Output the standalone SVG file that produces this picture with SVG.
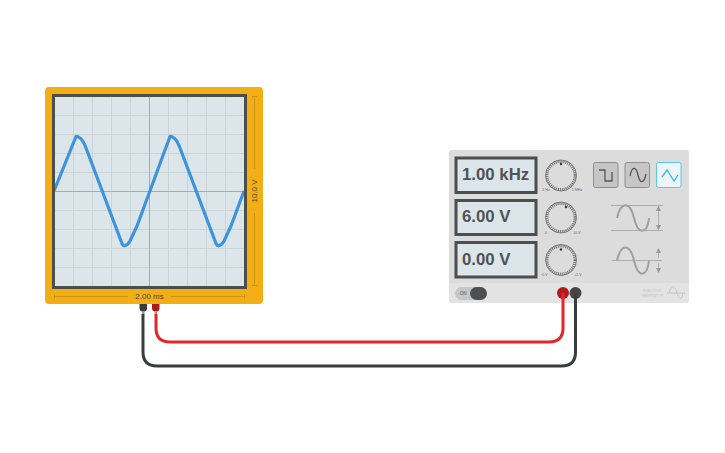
<svg xmlns="http://www.w3.org/2000/svg" width="725" height="453" viewBox="0 0 725 453">
<style>
text{font-family:"Liberation Sans",Arial,sans-serif}
.g{stroke:#cbd5d8;stroke-width:1;fill:none}
.tick{stroke:#c08f16;stroke-width:.8;fill:none}
.o{font-size:8px;fill:#4a4a40}
.lcd{fill:#dbe5ea;stroke:#4b4f4f;stroke-width:3}
.val{font-size:16.800px;font-weight:bold;fill:#4f5353}
.knobtick{fill:none;stroke:#777;stroke-width:2.800;stroke-dasharray:1.100 .9}
.knob{fill:#dcdcdc;stroke:#666;stroke-width:.8}
.sm{font-size:3.600px;fill:#666}
.btn{fill:#c6c6c6;stroke:#8f8f8f;stroke-width:1}
.ic{fill:none;stroke:#555;stroke-width:1.300}
.big{fill:none;stroke:#a0a0a0;stroke-width:2}
.thin{fill:none;stroke:#adadad;stroke-width:1}
</style>
<g id="oscilloscope">
<rect x="45" y="87" width="218" height="217" rx="4" fill="#f2ae14"/>
<rect x="54" y="96" width="191" height="191" fill="#dbe5ea"/>
<path class="g" d="M73.500 96V287M92.500 96V287M111.500 96V287M130.500 96V287M168.500 96V287M187.500 96V287M206.500 96V287M225.500 96V287M54 115.500H245M54 134.500H245M54 153.500H245M54 172.500H245M54 210.500H245M54 229.500H245M54 248.500H245M54 267.500H245"/>
<path d="M149.500 96V287M54 191.500H245" stroke="#a3adae" stroke-width="1" fill="none"/>
<path d="M54 191L76 136.500Q77 135.800 80 138Q83 140 86 148L122 243.500Q123.500 246.500 125 245.500Q128 244.800 130 241L137 226L170 136.500Q171 135.800 174 138Q177 140 180 148L216 243.500Q217.500 246.500 219 245.500Q222 244.800 224 241L231 226L244 191" fill="none" stroke="#3f93db" stroke-width="3.200" stroke-linejoin="round"/>
<rect x="53.500" y="95.500" width="192" height="192" fill="none" stroke="#4d4f4b" stroke-width="3"/>
<path class="tick" d="M254.500 96.500V169M254.500 213V285.500M252 96.500H257M252 285.500H257M54.500 296.500H128M171 296.500H244.500M54.500 294.500V298.500M244.500 294.500V298.500"/>
<text class="o" x="149.500" y="299" text-anchor="middle">2.00 ms</text>
<text class="o" text-anchor="middle" transform="translate(257 191) rotate(-90)">10.0 V</text>
<path d="M139.500 304H147V308Q147 311 144.500 311.500H142Q139.500 311 139.500 308Z" fill="#3a3c3e"/>
<path d="M152 304H159.500V308Q159.500 311 157 311.500H154.500Q152 311 152 308Z" fill="#a81c1c"/>
<rect x="142" y="311" width="2.500" height="3" fill="#999"/>
<rect x="154.500" y="311" width="2.500" height="3" fill="#999"/>
</g>
<g id="function-generator">
<rect x="449" y="150" width="240" height="153" rx="3" fill="#dcdcdc"/>
<path d="M449 283H689V300a3 3 0 0 1-3 3H452a3 3 0 0 1-3-3Z" fill="#e3e3e3"/>
<rect class="lcd" x="456" y="158" width="80" height="34.500"/>
<rect class="lcd" x="456" y="200.500" width="80" height="34"/>
<rect class="lcd" x="456" y="242.500" width="80" height="34.500"/>
<text class="val" x="462" y="180">1.00 kHz</text>
<text class="val" x="462" y="222">6.00 V</text>
<text class="val" x="462" y="265">0.00 V</text>
<circle class="knob" cx="561" cy="175.500" r="15.500"/><circle class="knobtick" cx="561" cy="175.500" r="14"/><circle cx="561" cy="164" r="1.200" fill="#333"/>
<circle class="knob" cx="561" cy="217.500" r="15.500"/><circle class="knobtick" cx="561" cy="217.500" r="14"/><circle cx="566" cy="207" r="1.200" fill="#333"/>
<circle class="knob" cx="561" cy="260" r="15.500"/><circle class="knobtick" cx="561" cy="260" r="14"/><circle cx="561" cy="249.500" r="1.200" fill="#333"/>
<text class="sm" x="546" y="190.500" text-anchor="middle">1 Hz</text><text class="sm" x="577" y="190.500" text-anchor="middle">1 MHz</text>
<text class="sm" x="546" y="233.500" text-anchor="middle">0</text><text class="sm" x="577" y="233.500" text-anchor="middle">10 V</text>
<text class="sm" x="544" y="275.500" text-anchor="middle">−5 V</text><text class="sm" x="578" y="275.500" text-anchor="middle">+5 V</text>
<rect class="btn" x="593.500" y="162.500" width="24.500" height="25" rx="2"/>
<path class="ic" d="M599 170H605V181H612V172"/>
<rect class="btn" x="625" y="162.500" width="24.500" height="25" rx="2"/>
<path class="ic" d="M630 176C632 166 636 166 638 175C640 184 644 184 646 174"/>
<rect x="656.500" y="162.500" width="24.500" height="25" rx="2" fill="#eef5f8" stroke="#5cc6ec" stroke-width="1"/>
<path d="M662 177L667 170L674 181L678 175" fill="none" stroke="#3cb6e6" stroke-width="1.300"/>
<path class="thin" d="M611 205.500H663M611 230.500H663"/>
<path class="big" d="M617 218C621 201 630 201 634 218C638 235 647 235 649 218"/>
<path class="thin" d="M658.500 209V227"/>
<path d="M658.500 205.500L661 211H656ZM658.500 230.500L661 225H656Z" fill="#999"/>
<path class="thin" d="M612 260.500H662"/>
<path class="big" d="M617 260.500C621 243 630 243 634 260.500C638 278 647 278 649 260.500"/>
<path class="thin" d="M658.500 250V258M658.500 263V271"/>
<path d="M658.500 248L661 253H656ZM658.500 273L661 268H656Z" fill="#999"/>
<rect x="455" y="287" width="32" height="13" rx="6.500" fill="#c6c6c6"/>
<rect x="470" y="287" width="17" height="13" rx="6.500" fill="#4d5052"/>
<text x="463" y="295" font-size="4.500" text-anchor="middle" fill="#555">ON</text>
<text x="652" y="292" font-size="3.500" text-anchor="middle" fill="#c4c4c4">FUNCTION</text>
<text x="652" y="297" font-size="3.500" text-anchor="middle" fill="#c4c4c4">GENERATOR</text>
<path d="M667 293H685M669 293C671 285 675 285 677 293C679 300 682 300 683 293" fill="none" stroke="#bdbdbd" stroke-width=".8"/>
<circle cx="563" cy="293" r="6" fill="#b01c1c"/>
<circle cx="575.500" cy="293" r="6" fill="#45484a"/>
</g>
<g id="connectors" fill="none" stroke-width="3">
<path d="M156 314V328Q156 342 170 342H549Q563 342 563 328V293" stroke="#e3262b"/>
<path d="M143 314V352Q143 366 157 366H561.500Q575.500 366 575.500 352V293" stroke="#3a3c3e"/>
</g>
</svg>
